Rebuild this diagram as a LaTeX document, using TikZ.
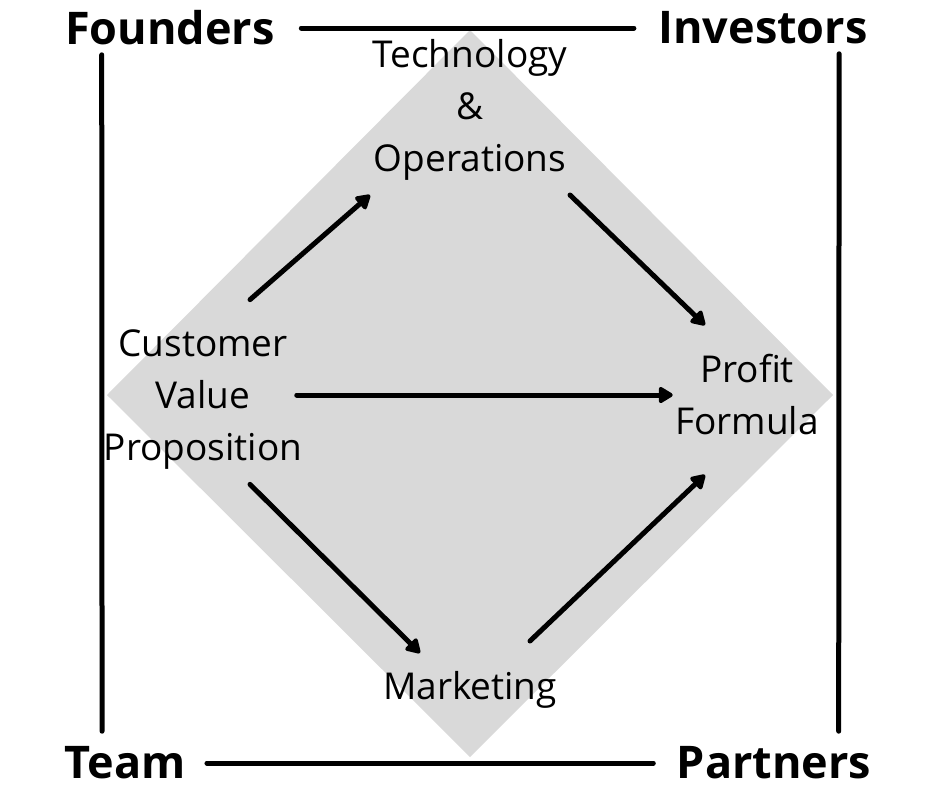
\documentclass[tikz,border=0pt]{standalone}
\usepackage{fontspec}
\setmainfont{Open Sans}
\usetikzlibrary{arrows.meta,calc}
\definecolor{diamondgrey}{HTML}{D9D9D9}

\begin{document}
\begin{tikzpicture}[x=1pt, y=-1pt, line width=5pt,
    corner/.style={font=\fontsize{45}{50}\selectfont\bfseries, inner sep=0pt},
    block/.style={font=\fontsize{37}{52}\selectfont, align=center, inner sep=0pt},
    link/.style={line cap=round},
    flow/.style={line cap=round, -{Triangle[length=16pt, width=18pt, round]}}]

    \useasboundingbox (0, 0) rectangle (940, 788);

    % draw grey diamond
    \fill[diamondgrey] (470, 30) -- (833, 395) -- (470, 757) -- (107, 395) -- cycle;

    % draw corner labels
    \node[corner] (founders)  at (170, 28)  {Founders};
    \node[corner] (investors) at (763, 28)  {Investors};
    \node[corner] (team)      at (125, 763) {Team};
    \node[corner] (partners)  at (774, 763) {Partners};

    % draw frame lines
    \draw[link, shorten <=24pt, shorten >=22pt] (founders.east) -- (investors.west);
    \draw[link, shorten <=19pt, shorten >=21pt] (team.east) -- (partners.west);
    \draw[link] ($(founders.south west)+(39, 7)$) -- ($(team.north west)+(40, -13)$);
    \draw[link] ($(investors.south east)+(-31, 7)$) -- ($(partners.north east)+(-35, -13)$);

    % draw inner blocks
    \node[block] (tech)      at (470, 110) {Technology\\\&\\Operations};
    \node[block] (cvp)       at (203, 400) {Customer\\Value\\Proposition};
    \node[block] (profit)    at (747, 395) {Profit\\Formula};
    \node[block] (marketing) at (470, 690) {Marketing};

    % draw arrows
    \draw[flow] ($(cvp.north)+(47, -28)$) -- ($(tech.south)+(-100, 12)$);
    \draw[flow] ($(tech.south)+(100, 12)$) -- ($(profit.north)+(-42, -27)$);
    \draw[flow] ($(cvp.east)+(-8, -5)$) -- (profit.west);
    \draw[flow] ($(cvp.south)+(47, 12)$) -- ($(marketing.north)+(-50, -16)$);
    \draw[flow] ($(marketing.north)+(60, -28)$) -- ($(profit.south)+(-42, 37)$);

\end{tikzpicture}
\end{document}
